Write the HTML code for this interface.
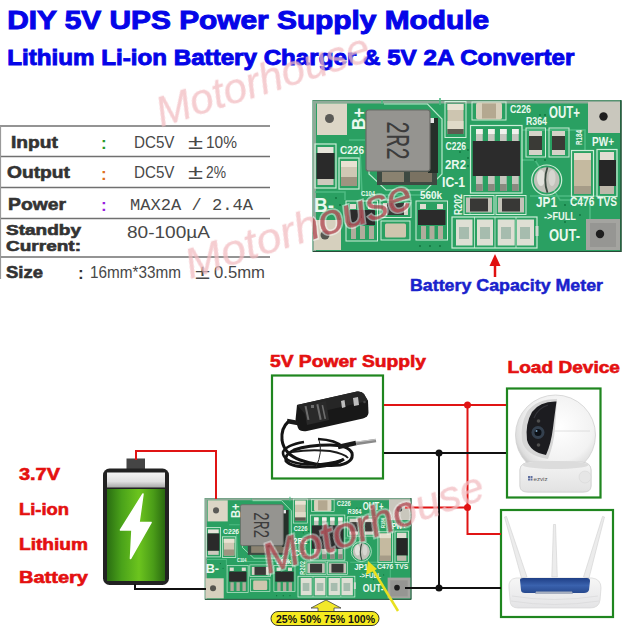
<!DOCTYPE html>
<html><head><meta charset="utf-8">
<style>
html,body{margin:0;padding:0;background:#fff;width:640px;height:640px;overflow:hidden}
svg{display:block;position:absolute;left:0;top:0}
</style></head>
<body>
<svg width="640" height="640" viewBox="0 0 640 640" font-family="Liberation Sans, sans-serif">
<defs>
<g id="pcb"><g transform="translate(-313,-100)">
<rect x="313" y="100.5" width="308" height="151" fill="#2aa062"/>
<rect x="313" y="100.5" width="308" height="151" fill="none" stroke="#1b7c48" stroke-width="1"/>
<path d="M314.5,251 L314.5,102 L620,102" stroke="#8faa98" stroke-width="3" fill="none"/>
<path d="M313,251.5 L621,251.5 L621,100.5" stroke="#2a4a38" stroke-width="1.2" fill="none"/>
<!-- lighter traces -->
<g stroke="#4dbb82" stroke-width="1.6" fill="none">
<path d="M345,150 L360,150 L362,195 L440,195 M470,196 L470,215 M522,130 L585,130 L585,150 M522,160 L535,160 L560,200 L585,200 M590,205 L590,220 M530,196 L600,196"/>
<path d="M349,140 L365,140 M440,98 L440,105 M382,104 L382,100 M315,192 L345,192 L345,200"/>
</g>
<g fill="#10703c">
<circle cx="456" cy="144" r="0.9"/><circle cx="460" cy="152" r="0.9"/><circle cx="468" cy="150" r="0.9"/><circle cx="468" cy="158" r="0.9"/><circle cx="468" cy="166" r="0.9"/>
<circle cx="336" cy="198" r="0.9"/><circle cx="340" cy="205" r="0.9"/><circle cx="420" cy="246" r="0.9"/><circle cx="430" cy="246" r="0.9"/><circle cx="440" cy="246" r="0.9"/>
<circle cx="565" cy="205" r="0.9"/><circle cx="572" cy="205" r="0.9"/><circle cx="580" cy="215" r="0.9"/><circle cx="565" cy="222" r="0.9"/><circle cx="570" cy="232" r="0.9"/>
<circle cx="540" cy="115" r="0.9"/><circle cx="545" cy="115" r="0.9"/><circle cx="535" cy="160" r="0.9"/><circle cx="545" cy="160" r="0.9"/>
</g>
<!-- pads -->
<rect x="317" y="103.5" width="30" height="31.5" fill="#dcd6c6"/>
<circle cx="329.5" cy="118.5" r="4.5" fill="#5a5a56"/>
<rect x="314" y="220" width="27" height="30" fill="#d6d0be"/>
<circle cx="325" cy="235" r="4.5" fill="#55554f"/>
<rect x="588" y="102" width="32" height="31" fill="#c9c7bd"/>
<circle cx="603.5" cy="116.5" r="4.2" fill="#1e1e1e"/>
<rect x="586" y="219" width="34" height="31" fill="#a4a4a0"/>
<rect x="590" y="223" width="26" height="24" fill="#8e8e8a" opacity="0.6"/>
<circle cx="600" cy="234" r="4.2" fill="#1e1e1e"/>
<!-- inductor -->
<path d="M384,104 L427.5,104 L442,119 L442,174 L426,190 L386,190 L369,174 L369,170" fill="none" stroke="#b9e8cc" stroke-width="1.2"/>
<rect x="377" y="168" width="60" height="17" fill="#3e4a42"/>
<rect x="382" y="172" width="22" height="10" fill="#8a8270"/>
<rect x="410" y="172" width="22" height="10" fill="#7a7262"/>
<rect x="428" y="118" width="10" height="55" fill="#26302a"/>
<rect x="429" y="118" width="5" height="5" fill="#e8e8e8"/>
<rect x="366" y="110" width="64" height="61" rx="2.5" fill="#959490" stroke="#6a6a66" stroke-width="1.2"/>
<text transform="translate(386.5,121) rotate(90)" font-size="33" fill="#3c3c3c" font-family="Liberation Mono" textLength="39" lengthAdjust="spacingAndGlyphs">2R2</text>
<!-- diode left -->
<rect x="315" y="144" width="21" height="44" fill="none" stroke="#cdeed8" stroke-width="1.2"/>
<rect x="317.5" y="147" width="16" height="6" fill="#e6e4da"/>
<rect x="316.5" y="153" width="18" height="26" fill="#2a2a2a"/>
<rect x="317.5" y="179" width="16" height="6" fill="#cdc9bd"/>
<!-- cap left -->
<rect x="339" y="158" width="20" height="31" fill="none" stroke="#cdeed8" stroke-width="1.2"/>
<rect x="341" y="161" width="16" height="25" fill="#cfc8b4"/>
<rect x="341" y="161" width="16" height="6" fill="#e8e2d2"/>
<rect x="341" y="177" width="16" height="9" fill="#9e9480"/>
<!-- top caps -->
<rect x="445" y="101.5" width="21" height="36" fill="none" stroke="#cdeed8" stroke-width="1"/>
<rect x="447.5" y="104" width="16" height="30" fill="#cdc5b0"/>
<rect x="447.5" y="104" width="16" height="6" fill="#e8e2d2"/>
<rect x="447.5" y="121" width="16" height="8" fill="#e0dac8"/>
<rect x="447.5" y="129" width="16" height="5" fill="#5e5a50"/>
<rect x="472" y="102" width="34" height="18" fill="none" stroke="#cdeed8" stroke-width="1"/>
<rect x="476" y="102.5" width="26" height="17" rx="2" fill="#d8d0bc"/>
<rect x="482" y="103.5" width="14" height="15" fill="#b4a890"/>
<!-- IC SOP8 -->
<rect x="470.5" y="125.5" width="51.5" height="67.5" fill="none" stroke="#cdeed8" stroke-width="1.2"/>
<g fill="#c6c6be">
<rect x="476" y="129" width="6.7" height="12"/><rect x="488" y="129" width="6.7" height="12"/><rect x="500" y="129" width="6.7" height="12"/><rect x="512" y="129" width="6.7" height="12"/>
<rect x="476" y="176" width="6.7" height="15"/><rect x="488" y="176" width="6.7" height="15"/><rect x="500" y="176" width="6.7" height="15"/><rect x="512" y="176" width="6.7" height="15"/>
</g>
<g fill="#f2f2ec">
<rect x="476" y="129" width="6.7" height="5"/><rect x="488" y="129" width="6.7" height="5"/><rect x="500" y="129" width="6.7" height="5"/><rect x="512" y="129" width="6.7" height="5"/>
</g>
<g fill="#8a8a80">
<rect x="476" y="184" width="6.7" height="7"/><rect x="488" y="184" width="6.7" height="7"/><rect x="500" y="184" width="6.7" height="7"/><rect x="512" y="184" width="6.7" height="7"/>
</g>
<rect x="472.8" y="141" width="47.2" height="35" fill="#2c2c2c"/>
<!-- resistors top right -->
<rect x="526" y="128" width="19.5" height="29" fill="none" stroke="#cdeed8" stroke-width="1"/>
<rect x="529" y="131" width="13" height="24" fill="#d4d2c8"/>
<rect x="529" y="136" width="13" height="14" fill="#3a3a36"/>
<rect x="549" y="128" width="20" height="29" fill="none" stroke="#cdeed8" stroke-width="1"/>
<rect x="552" y="131" width="13" height="24" fill="#d4d2c8"/>
<rect x="552" y="136" width="13" height="14" fill="#3a3a36"/>
<!-- C476 -->
<rect x="571.5" y="150.5" width="22" height="46" fill="none" stroke="#cdeed8" stroke-width="1.2"/>
<rect x="574" y="153" width="17" height="41" fill="#c5baa0"/>
<rect x="574" y="153" width="17" height="7" fill="#e4ddcc"/>
<rect x="574" y="186" width="17" height="8" fill="#a69c88"/>
<!-- TVS -->
<rect x="597" y="149.5" width="20" height="47" fill="none" stroke="#cdeed8" stroke-width="1.2"/>
<rect x="600" y="152" width="14" height="8" fill="#e0ddd2"/>
<rect x="599" y="160" width="17" height="26" fill="#262626"/>
<rect x="600" y="186" width="14" height="8" fill="#bdb8aa"/>
<!-- JP1 -->
<circle cx="546.7" cy="180" r="15" fill="none" stroke="#cdeed8" stroke-width="1.2"/>
<circle cx="546.7" cy="180" r="12.8" fill="#c2c2ba"/>
<ellipse cx="541" cy="178" rx="4" ry="8" fill="#e2e2dc"/>
<ellipse cx="552" cy="178" rx="3.5" ry="8" fill="#d6d6d0"/>
<path d="M547.5,167.2 Q543,180 547.5,192.8" stroke="#3c4a40" stroke-width="1.8" fill="none"/>
<!-- lower left SOT -->
<rect x="346" y="201" width="31.5" height="40" fill="none" stroke="#cdeed8" stroke-width="1"/>
<g fill="#e0ddd2"><rect x="350" y="204" width="6" height="5"/><rect x="368" y="204" width="6" height="5"/></g>
<rect x="349" y="210" width="26" height="15" fill="#2b2b2b"/>
<g fill="#b0ac9c"><rect x="351" y="226" width="5" height="13"/><rect x="360" y="226" width="5" height="13"/><rect x="369" y="226" width="5" height="13"/></g>
<!-- small parts middle -->
<rect x="380" y="200" width="31" height="17.5" fill="none" stroke="#cdeed8" stroke-width="1"/>
<rect x="383" y="203" width="25" height="12" fill="#d6d2c6"/>
<rect x="387" y="203" width="17" height="12" fill="#3a3a38"/>
<rect x="381" y="221" width="29" height="19" fill="none" stroke="#cdeed8" stroke-width="1"/>
<rect x="385" y="223.5" width="21" height="14" rx="1.5" fill="#cfc6ae"/>
<!-- right SOT -->
<rect x="416" y="201" width="31.5" height="39" fill="none" stroke="#cdeed8" stroke-width="1"/>
<g fill="#e0ddd2"><rect x="420" y="204" width="6" height="5"/><rect x="437" y="204" width="6" height="5"/></g>
<rect x="418" y="210" width="27.5" height="15" fill="#2b2b2b"/>
<g fill="#b0ac9c"><rect x="421" y="226" width="5" height="13"/><rect x="429.5" y="226" width="5" height="13"/><rect x="438" y="226" width="5" height="13"/></g>
<!-- resistors 60 C9 -->
<rect x="464" y="195.5" width="30" height="19" fill="none" stroke="#cdeed8" stroke-width="1"/>
<rect x="466" y="197.5" width="26" height="15" fill="#c4c2b8"/>
<rect x="470" y="198.5" width="18" height="13" fill="#383836"/>
<rect x="496" y="195.5" width="30" height="19" fill="none" stroke="#cdeed8" stroke-width="1"/>
<rect x="498" y="197.5" width="26" height="15" fill="#c4c2b8"/>
<rect x="502" y="198.5" width="18" height="13" fill="#383836"/>
<!-- LEDs -->
<rect x="452" y="217" width="85" height="31" fill="none" stroke="#cdeed8" stroke-width="1.2"/>
<g stroke="#cdeed8" stroke-width="0.8"><line x1="474.5" y1="217" x2="474.5" y2="248"/><line x1="495" y1="217" x2="495" y2="248"/><line x1="516" y1="217" x2="516" y2="248"/></g>
<rect x="535.5" y="226" width="3" height="10" fill="#d0d8d0"/>
<g fill="#dedfd4">
<rect x="456" y="219.5" width="16.5" height="26"/><rect x="477" y="219.5" width="16" height="26"/><rect x="497.7" y="219.5" width="17" height="26"/><rect x="517" y="219.5" width="17" height="26"/>
</g>
<g fill="#a6bcae">
<rect x="459" y="227" width="10" height="12"/><rect x="480" y="227" width="10" height="12"/><rect x="501" y="227" width="10" height="12"/><rect x="520" y="227" width="10" height="12"/>
</g>
<!-- silkscreen text -->
<g fill="#eaf8ee" font-family="Liberation Sans" font-weight="bold">
<text transform="translate(365,130) rotate(-90)" font-size="19" textLength="22" lengthAdjust="spacingAndGlyphs">B+</text>
<text x="314" y="211.5" font-size="20" textLength="20" lengthAdjust="spacingAndGlyphs">B-</text>
<text x="340" y="153.6" font-size="11" textLength="24" lengthAdjust="spacingAndGlyphs">C226</text>
<text x="510" y="112.5" font-size="11" textLength="21" lengthAdjust="spacingAndGlyphs">C226</text>
<text x="549" y="118" font-size="17" textLength="31" lengthAdjust="spacingAndGlyphs">OUT+</text>
<text x="526" y="124.5" font-size="11" textLength="21" lengthAdjust="spacingAndGlyphs">R364</text>
<text x="592" y="146" font-size="13" textLength="22" lengthAdjust="spacingAndGlyphs">PW+</text>
<text x="445" y="169" font-size="13" textLength="21" lengthAdjust="spacingAndGlyphs">2R2</text>
<text x="445.5" y="150" font-size="11" textLength="20.5" lengthAdjust="spacingAndGlyphs">C226</text>
<text x="442" y="187" font-size="14" textLength="23" lengthAdjust="spacingAndGlyphs">IC-1</text>
<text x="536" y="207" font-size="14" textLength="21" lengthAdjust="spacingAndGlyphs">JP1</text>
<text x="544" y="220" font-size="10" textLength="32" lengthAdjust="spacingAndGlyphs">-&gt;FULL</text>
<text x="549" y="241" font-size="17" textLength="31" lengthAdjust="spacingAndGlyphs">OUT-</text>
<text x="570" y="206" font-size="12" textLength="47" lengthAdjust="spacingAndGlyphs">C476 TVS</text>
<text transform="translate(462,215) rotate(-90)" font-size="10" textLength="21" lengthAdjust="spacingAndGlyphs">R202</text>
<text x="361" y="195.5" font-size="8" textLength="14" lengthAdjust="spacingAndGlyphs">C104</text>
<text x="420" y="199" font-size="10" textLength="22" lengthAdjust="spacingAndGlyphs">560k</text>
<text transform="translate(582,145) rotate(-90)" font-size="9" textLength="15" lengthAdjust="spacingAndGlyphs">R184</text>
</g>
</g></g>
</defs>
<rect width="640" height="640" fill="#fff"/>
<!-- Title -->
<text x="7.2" y="28.8" font-size="25.8" font-weight="bold" fill="#0505e8" stroke="#0505e8" stroke-width="1" textLength="482" lengthAdjust="spacingAndGlyphs">DIY 5V UPS Power Supply Module</text>
<text x="7.3" y="65.4" font-size="21.6" font-weight="bold" fill="#0505e8" stroke="#0505e8" stroke-width="0.9" textLength="567" lengthAdjust="spacingAndGlyphs">Lithium Li-ion Battery Charger &amp; 5V 2A Converter</text>

<!-- Table -->
<g stroke="#707070" stroke-width="1.7">
<line x1="0" y1="126" x2="270" y2="126"/>
<line x1="0" y1="156.5" x2="270" y2="156.5"/>
<line x1="0" y1="187.5" x2="270" y2="187.5"/>
<line x1="0" y1="218.5" x2="270" y2="218.5"/>
<line x1="0" y1="257" x2="270" y2="257"/>
<line x1="0.5" y1="126" x2="0.5" y2="279" stroke="#9a9a9a" stroke-width="1.2"/>
</g>
<g font-weight="bold" fill="#333" stroke="#333" stroke-width="0.6" font-size="17">
<text x="11" y="147.5" textLength="47" lengthAdjust="spacingAndGlyphs">Input</text>
<text x="7" y="178" textLength="63" lengthAdjust="spacingAndGlyphs">Output</text>
<text x="8" y="209.5" textLength="58" lengthAdjust="spacingAndGlyphs">Power</text>
<text x="6" y="234.5" font-size="15" textLength="75" lengthAdjust="spacingAndGlyphs">Standby</text>
<text x="6" y="250.5" font-size="15" textLength="75" lengthAdjust="spacingAndGlyphs">Current:</text>
<text x="6" y="277.5" textLength="37" lengthAdjust="spacingAndGlyphs">Size</text>
</g>
<g font-size="17" font-weight="bold">
<text x="101" y="149" fill="#2a9a2a">:</text>
<text x="101" y="180" fill="#e07020">:</text>
<text x="101" y="211" fill="#9a20e0">:</text>
<text x="78" y="279" fill="#333">:</text>
</g>
<g fill="#484848" font-size="17">
<text x="134" y="147.5" textLength="40.5" lengthAdjust="spacingAndGlyphs">DC5V</text>
<text x="188" y="148.5" font-size="21" textLength="15" lengthAdjust="spacingAndGlyphs">±</text>
<text x="206" y="147.5" textLength="31" lengthAdjust="spacingAndGlyphs">10%</text>
<text x="134" y="178" textLength="40.5" lengthAdjust="spacingAndGlyphs">DC5V</text>
<text x="188" y="179" font-size="21" textLength="15" lengthAdjust="spacingAndGlyphs">±</text>
<text x="206" y="178" textLength="20" lengthAdjust="spacingAndGlyphs">2%</text>
<text x="130" y="209.5" font-family="Liberation Mono" textLength="123" lengthAdjust="spacingAndGlyphs">MAX2A / 2.4A</text>
<text x="127" y="238" textLength="83" lengthAdjust="spacingAndGlyphs">80-100µA</text>
<text x="90" y="277.5" textLength="91" lengthAdjust="spacingAndGlyphs">16mm*33mm</text>
<text x="195" y="278.5" font-size="21" textLength="15" lengthAdjust="spacingAndGlyphs">±</text>
<text x="214" y="277.5" textLength="51" lengthAdjust="spacingAndGlyphs">0.5mm</text>
</g>

<use href="#pcb" transform="translate(313,100)"/>
<use href="#pcb" transform="translate(205,498) scale(0.669)"/>
<!-- Battery Capacity Meter -->
<text x="410" y="291" font-size="17" font-weight="bold" fill="#1a22cc" stroke="#1a22cc" stroke-width="0.5" textLength="193" lengthAdjust="spacingAndGlyphs">Battery Capacity Meter</text>
<line x1="495" y1="262" x2="495" y2="277" stroke="#e01010" stroke-width="2.5"/>
<polygon points="495,254 489.5,266 500.5,266" fill="#e01010"/>

<!-- Bottom diagram texts -->
<g font-weight="bold" fill="#e41010" stroke="#e41010" stroke-width="0.6" font-size="16">
<text x="270" y="367" textLength="156" lengthAdjust="spacingAndGlyphs">5V Power Supply</text>
<text x="507.5" y="372.5" textLength="112.5" lengthAdjust="spacingAndGlyphs">Load Device</text>
<text x="19" y="480" textLength="41" lengthAdjust="spacingAndGlyphs">3.7V</text>
<text x="19" y="515" textLength="50" lengthAdjust="spacingAndGlyphs">Li-ion</text>
<text x="19" y="550" textLength="69" lengthAdjust="spacingAndGlyphs">Lithium</text>
<text x="19" y="582.5" textLength="69" lengthAdjust="spacingAndGlyphs">Battery</text>
</g>

<!-- boxes -->
<g fill="none" stroke="#1f861f" stroke-width="2.2">
<rect x="272" y="375.5" width="111" height="103"/>
<rect x="507" y="388.5" width="93.5" height="109"/>
<rect x="501" y="510" width="112" height="107"/>
</g>


<!-- battery -->
<defs>
<linearGradient id="bg" x1="0" x2="1" y1="0" y2="0">
<stop offset="0" stop-color="#2a6e12"/><stop offset="0.25" stop-color="#4aa21a"/><stop offset="0.55" stop-color="#6cc41e"/><stop offset="0.8" stop-color="#4a9c18"/><stop offset="1" stop-color="#2a6a10"/>
</linearGradient>
<linearGradient id="bw" x1="0" x2="0" y1="0" y2="1">
<stop offset="0" stop-color="#f4f4f4"/><stop offset="0.6" stop-color="#e0e0e0"/><stop offset="1" stop-color="#a8a8a8"/>
</linearGradient>
<linearGradient id="camg" x1="0" x2="1" y1="0" y2="1">
<stop offset="0" stop-color="#ffffff"/><stop offset="0.6" stop-color="#eeeeee"/><stop offset="1" stop-color="#cfcfcf"/>
</linearGradient>
</defs>
<rect x="126.5" y="458.5" width="18.5" height="12" fill="#454545"/>
<rect x="103" y="468.5" width="66" height="116.5" rx="6.5" fill="#222" />
<rect x="107" y="472.5" width="58" height="15" fill="url(#bw)"/>
<rect x="107" y="489" width="58" height="92" fill="url(#bg)"/>
<polygon points="143,494 120.5,530 132,530 130.5,558.5 151,522.5 139,522.5" fill="#fff" stroke="#fff" stroke-width="1.6" stroke-linejoin="round"/>

<!-- adapter -->
<g>
<path d="M297,405 L357,391.5 Q362,391 364,394 L368,401 L368.5,413 Q368,417 363,418.5 L307,431 Q300,432 298,428 L295.5,420 Z" fill="#181818"/>
<path d="M297,405 L357,391.5 Q362,391 364,394 L368,401 L306,415 Z" fill="#262626"/>
<path d="M304,406 L326,401 L329,420 L307,425 Z" fill="#2a2a2a"/>
<g fill="#6e6e6e"><rect x="306" y="406" width="2" height="14" transform="rotate(-12 307 413)"/><rect x="311" y="405" width="3" height="3"/><rect x="318" y="404" width="2" height="16" transform="rotate(-12 319 412)"/><rect x="323" y="405" width="1.6" height="14" transform="rotate(-12 324 412)"/></g>
<g fill="#bdbdbd"><path d="M341,401 L344.5,400 L345.5,407 L342,408 Z"/><path d="M353,398 L358,397 L359,405 L354,406 Z"/></g>
<circle cx="364.5" cy="402" r="1.3" fill="#444"/>
<path d="M298,423 L287,421" stroke="#1a1a1a" stroke-width="4.5"/>
<path d="M288,422 Q281,428 282,440 Q284,454 300,460 Q320,467 340,465 Q354,462 352,453 Q348,445 330,445 Q308,445 294,450 Q284,455 286,461 Q292,468 316,467 Q336,465 344,459" stroke="#141414" stroke-width="3" fill="none"/>
<path d="M304,442 Q286,445 283,452 Q282,461 302,464 Q325,466 342,460" stroke="#141414" stroke-width="2.6" fill="none"/>
<path d="M318,439 Q336,440 343,447" stroke="#141414" stroke-width="2.4" fill="none"/>
<path d="M292,452 Q310,449 330,451 Q345,454 348,458" stroke="#1c1c1c" stroke-width="2" fill="none"/>
<path d="M319,440 Q323,452 316,467" stroke="#2a2a2a" stroke-width="1" fill="none"/>
<path d="M338,447 L356,443" stroke="#1a1a1a" stroke-width="4.5"/>
<path d="M356,443.5 L376,440.5" stroke="#8a8a8a" stroke-width="3.5"/>
<path d="M356,442 L376,439.5" stroke="#c8c8c8" stroke-width="1"/>
</g>

<!-- camera -->
<defs>
<radialGradient id="sph" cx="0.55" cy="0.4" r="0.6">
<stop offset="0" stop-color="#ffffff"/><stop offset="0.7" stop-color="#f2f2f2"/><stop offset="0.92" stop-color="#dedede"/><stop offset="1" stop-color="#c8c8c8"/>
</radialGradient>
<linearGradient id="base" x1="0" x2="0" y1="0" y2="1">
<stop offset="0" stop-color="#f4f4f4"/><stop offset="1" stop-color="#e2e2e2"/>
</linearGradient>
</defs>
<g>
<path d="M520,470 Q520,463 530,462 L582,462 Q591,463 591,470 L591,486 Q591,492 583,492 L528,492 Q520,492 520,486 Z" fill="url(#base)" stroke="#d2d2d2" stroke-width="0.8"/>
<circle cx="555.5" cy="435" r="40" fill="url(#sph)" stroke="#d0d0d0" stroke-width="0.8"/>
<path d="M520,470 Q520,463 530,462 L582,462 Q591,463 591,470 L591,486 Q591,492 583,492 L528,492 Q520,492 520,486 Z" fill="url(#base)" stroke="#d2d2d2" stroke-width="0.8"/>
<ellipse cx="555.5" cy="465" rx="33" ry="4" fill="#dcdcdc"/>
<path d="M557,399 Q536,399 527,412 Q520,425 522,441 Q526,456 548,459 Q554,444 555,428 Q556,412 557,399 Z" fill="#d6d6d6"/>
<path d="M556.5,401.5 Q540,401 532,412 Q525,424 527,440 Q530,452 546,455 Q551,444 553,428 Q555,412 556.5,401.5 Z" fill="#1c1c20"/>
<path d="M548,405 Q538,408 534,418" stroke="#34343a" stroke-width="1.2" fill="none"/>
<circle cx="538" cy="432.5" r="6.5" fill="#34404e"/>
<circle cx="538" cy="432.5" r="3.5" fill="#0c1016"/>
<circle cx="536.5" cy="431" r="1" fill="#7aa0c0"/>
<circle cx="538.5" cy="421" r="1.8" fill="#505050"/>
<circle cx="538.5" cy="445" r="1.8" fill="#505050"/>
<path d="M553,431 L590,431" stroke="#d8d8d8" stroke-width="0.8"/>
<g fill="#6070a0"><rect x="528" y="476" width="2" height="2"/><rect x="530.5" y="476" width="2" height="2"/><rect x="528" y="478.5" width="2" height="2"/><rect x="530.5" y="478.5" width="2" height="2"/></g>
<text x="533.5" y="480.5" font-size="5.5" fill="#555" textLength="14" lengthAdjust="spacingAndGlyphs">ezviz</text>
<circle cx="585" cy="477" r="6" fill="#e6e6e6" stroke="#d6d6d6" stroke-width="0.6"/>
</g>

<!-- router -->
<defs>
<linearGradient id="blue" x1="0" x2="0" y1="0" y2="1">
<stop offset="0" stop-color="#1f3f86"/><stop offset="0.5" stop-color="#3a62ae"/><stop offset="1" stop-color="#27498e"/>
</linearGradient>
<linearGradient id="rbody" x1="0" x2="0" y1="0" y2="1">
<stop offset="0" stop-color="#f6f6f6"/><stop offset="1" stop-color="#e4e4e6"/>
</linearGradient>
</defs>
<g>
<path d="M504.5,517 L506.5,516.5 L527,577 L521.5,578 Z" fill="#ececec" stroke="#d0d0d0" stroke-width="0.6"/>
<path d="M553.5,524.5 L555.5,524.5 L557.3,577 L551.8,577 Z" fill="#ececec" stroke="#d0d0d0" stroke-width="0.6"/>
<path d="M602.5,516.5 L604.5,517 L589,578 L583.5,577 Z" fill="#ececec" stroke="#d0d0d0" stroke-width="0.6"/>
<path d="M509,588 Q508,579 516,578 L592,578 Q601,579 601,588 L600,600 Q599,608 590,608 L518,608 Q510,608 510,600 Z" fill="url(#rbody)" stroke="#d6d6d6" stroke-width="0.7"/>
<path d="M512,596 Q554,603 598,596 M511,601 Q554,608 599,601" stroke="#d8d8da" stroke-width="0.7" fill="none"/>
<path d="M520,580 Q520,578 523,578 L587,578 Q590,578 590,581 L589,590 Q588,593 584,593 L525,593 Q521,593 521,590 Z" fill="url(#blue)"/>
<path d="M536,591.5 L572,591.5 L573,594 L535,594 Z" fill="#a8b0c0"/>
</g>

<!-- yellow label -->
<polygon points="326,600 341,608 334,608 334,612 318,612 318,608 311,608" fill="#f2e82a" stroke="#444" stroke-width="0.8"/>
<rect x="271" y="611.5" width="108" height="14" rx="7" fill="#f5ea1f" stroke="#3a3a2a" stroke-width="1"/>
<text x="276" y="623" font-size="10.5" font-weight="bold" fill="#111" textLength="99" lengthAdjust="spacingAndGlyphs">25% 50% 75% 100%</text>
<line x1="398" y1="611" x2="372" y2="568" stroke="#e8e020" stroke-width="2.5"/>
<polygon points="368,561 366,575 377,569" fill="#e8e020"/>

<!-- wires -->
<g stroke="#e01414" stroke-width="2" fill="none">
<polyline points="384,405 506,405"/>
<polyline points="467.5,405 467.5,534 501,534"/>
<polyline points="405,507.5 467.5,507.5"/>
<polyline points="136,460 136,451 216,451 216,499"/>
</g>
<g stroke="#111" stroke-width="2" fill="none">
<polyline points="384,453 506,453"/>
<polyline points="439,453 439,588"/>
<polyline points="405,588 501,588"/>
<polyline points="135,584 135,589 206,589"/>
</g>
<circle cx="467.5" cy="405" r="3.5" fill="#e01414"/>
<circle cx="467.5" cy="507.5" r="3.5" fill="#e01414"/>
<circle cx="439" cy="453" r="3.5" fill="#111"/>
<circle cx="439" cy="588" r="3.5" fill="#111"/>


<!-- watermarks -->
<defs>
<clipPath id="onpcb"><rect x="313" y="100" width="308" height="152"/><rect x="205" y="498" width="206" height="101"/></clipPath>
<mask id="offpcb"><rect width="640" height="640" fill="#fff"/><rect x="313" y="100" width="308" height="152" fill="#000"/><rect x="205" y="498" width="206" height="101" fill="#000"/></mask>
</defs>
<g font-family="Liberation Sans" font-style="italic" font-size="42">
<g clip-path="url(#onpcb)">
<g fill="none" stroke="#ffffff" stroke-width="3.4" opacity="0.5">
<text x="161" y="127" transform="rotate(-17.5 161 127)" textLength="222" lengthAdjust="spacingAndGlyphs">Motorhouse</text>
<text x="190" y="279" transform="rotate(-17.8 190 279)" textLength="236" lengthAdjust="spacingAndGlyphs">Motorhouse</text>
<text x="268" y="574" transform="rotate(-19 268 574)" textLength="232" lengthAdjust="spacingAndGlyphs">Motorhouse</text>
</g>
<g fill="#a8343e" stroke="#a8343e" stroke-width="0.3" opacity="0.7">
<text x="161" y="127" transform="rotate(-17.5 161 127)" textLength="222" lengthAdjust="spacingAndGlyphs">Motorhouse</text>
<text x="190" y="279" transform="rotate(-17.8 190 279)" textLength="236" lengthAdjust="spacingAndGlyphs">Motorhouse</text>
<text x="268" y="574" transform="rotate(-19 268 574)" textLength="232" lengthAdjust="spacingAndGlyphs">Motorhouse</text>
</g>
</g>
<g mask="url(#offpcb)">
<g fill="#f2bcc1" stroke="#f2bcc1" stroke-width="0.3" opacity="0.75">
<text x="161" y="127" transform="rotate(-17.5 161 127)" textLength="222" lengthAdjust="spacingAndGlyphs">Motorhouse</text>
<text x="190" y="279" transform="rotate(-17.8 190 279)" textLength="236" lengthAdjust="spacingAndGlyphs">Motorhouse</text>
<text x="268" y="574" transform="rotate(-19 268 574)" textLength="232" lengthAdjust="spacingAndGlyphs">Motorhouse</text>
</g>
</g>
</g>
</svg>
</body></html>
